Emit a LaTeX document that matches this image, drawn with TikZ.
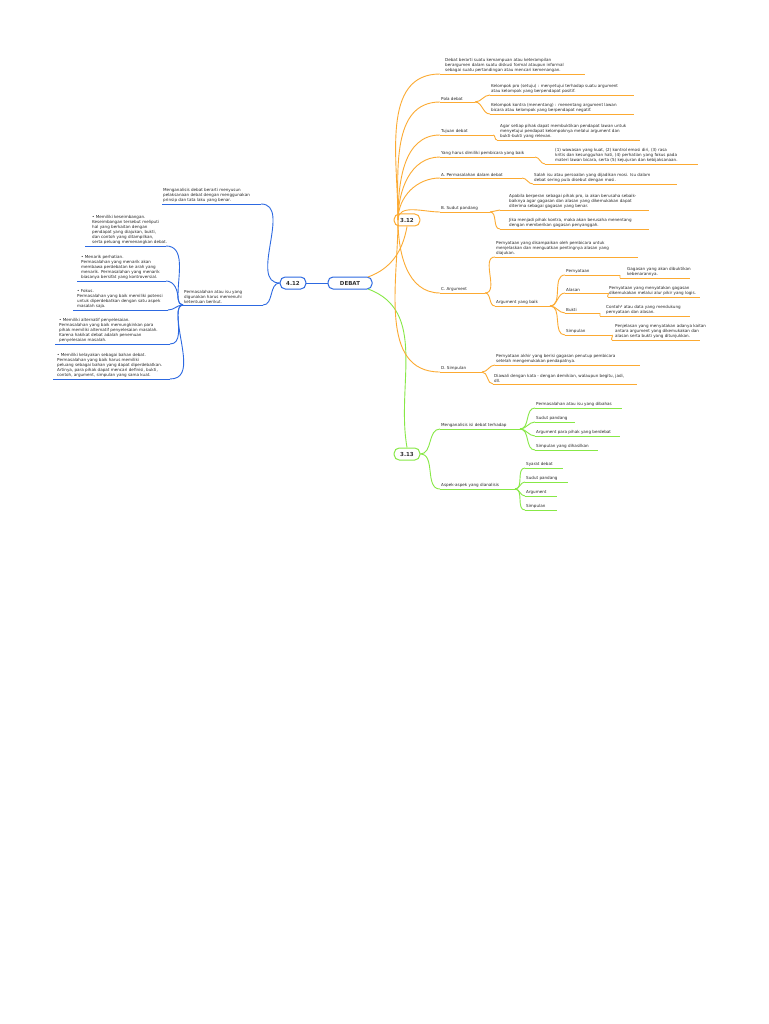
\documentclass[tikz,border=0pt]{standalone}
\usepackage{fontspec}
\setmainfont{DejaVu Sans}
\begin{document}
\begin{tikzpicture}[x=1pt,y=-1pt,
 txt/.style={font=\fontsize{4.1}{5}\selectfont,align=left,inner sep=1pt,text=black!85},
 box/.style={draw,rounded corners=5pt,line width=1pt,font=\fontsize{5.5}{6}\selectfont\bfseries,text=black!80,minimum height=12pt,inner xsep=6pt},
 bl/.style={draw={rgb,255:red,45;green,105;blue,225},line width=0.9pt},
 or/.style={draw={rgb,255:red,252;green,170;blue,50},line width=0.9pt},
 gr/.style={draw={rgb,255:red,135;green,232;blue,70},line width=0.9pt}]
\useasboundingbox[fill=white] (0,0) rectangle (768,1024);
\newcommand\lf[6]{\coordinate (#1s) at (#2,#4); \coordinate (#1e) at (#3,#4); \draw[#6] (#1s)--(#1e); \node[txt,anchor=south west] (#1) at (#1s) {#5};}
\newcommand\rc[3]{\draw[#3] (#1) to[out=0,in=180] (#2);}
\newcommand\lc[3]{\draw[#3] (#1) to[out=180,in=0] (#2);}
% central
\node[box,draw={rgb,255:red,45;green,105;blue,225},minimum width=44pt] (debat) at (350,283) {DEBAT};
\node[box,draw={rgb,255:red,45;green,105;blue,225}] (b412) at (293,283) {4.12};
\node[box,draw={rgb,255:red,252;green,170;blue,50}] (b312) at (407,220) {3.12};
\node[box,draw={rgb,255:red,135;green,232;blue,70}] (b313) at (407,454) {3.13};
\draw[bl] (debat.west)--(b412.east);
\coordinate (dor) at (368,277);
\coordinate (dgr) at (368,289);
\draw[or] (dor) to[out=20,in=-100] (b312.south);
\draw[gr] (dgr) to[out=-20,in=100] (b313.north);
% ---------- left blue
\coordinate (l0) at (b412.west);
\lf{ma}{162}{261}{204}{Menganalisis debat berarti menyusun\\pelaksanaan debat dengan menggunakan\\prinsip dan tata laku yang benar.}{bl}
\lf{pi}{183}{263}{305}{Permasalahan atau isu yang\\digunakan harus memenuhi\\ketentuan berikut.}{bl}
\lc{l0}{mae}{bl}\lc{l0}{pie}{bl}
\lf{i1}{85}{166}{246}{\hspace*{6pt}• Memiliki keseimbangan.\\\hspace*{6pt}Keseimbangan tersebut meliputi\\\hspace*{6pt}hal yang berkaitan dengan\\\hspace*{6pt}pendapat yang diajukan, bukti,\\\hspace*{6pt}dan contoh yang ditampilkan,\\\hspace*{6pt}serta peluang memenangkan debat.}{bl}
\lf{i2}{77}{166}{281}{\hspace*{3pt}• Menarik perhatian.\\\hspace*{3pt}Permasalahan yang menarik akan\\\hspace*{3pt}membawa perdebatan ke arah yang\\\hspace*{3pt}menarik. Permasalahan yang menarik\\\hspace*{3pt}biasanya bersifat yang kontroversial.}{bl}
\lf{i3}{73}{168}{310}{\hspace*{3pt}• Fokus.\\\hspace*{3pt}Permasalahan yang baik memiliki potensi\\\hspace*{3pt}untuk diperdebatkan dengan satu aspek\\\hspace*{3pt}masalah saja.}{bl}
\lf{i4}{55}{170}{344}{\hspace*{3pt}• Memiliki alternatif penyelesaian.\\\hspace*{3pt}Permasalahan yang baik memungkinkan para\\\hspace*{3pt}pihak memiliki alternatif penyelesaian masalah.\\\hspace*{3pt}Karena hakikat debat adalah penemuan\\\hspace*{3pt}penyelesaian masalah.}{bl}
\lf{i5}{53}{170}{379}{\hspace*{3pt}• Memiliki kelayakan sebagai bahan debat.\\\hspace*{3pt}Permasalahan yang baik harus memiliki\\\hspace*{3pt}peluang sebagai bahan yang dapat diperdebatkan.\\\hspace*{3pt}Artinya, para pihak dapat mencari definisi, bukti,\\\hspace*{3pt}contoh, argument, simpulan yang sama kuat.}{bl}
\draw[bl] (pis) to[out=180,in=-90] ++(-5,-10) to[out=90,in=0] (i1e);
\draw[bl] (pis) to[out=180,in=-90] ++(-5,-6) to[out=90,in=0] (i2e);
\draw[bl] (pis) to[out=180,in=0] (i3e);
\draw[bl] (pis) to[out=180,in=90] ++(-5,10) to[out=-90,in=0] (i4e);
\draw[bl] (pis) to[out=180,in=90] ++(-5,10) to[out=-90,in=0] (i5e);
% ---------- right orange
\coordinate (r0) at (398,220);
\newcommand\up[1]{\draw[or] (r0) to[out=90,in=180] (#1);}
\newcommand\dn[1]{\draw[or] (r0) to[out=-90,in=180] (#1);}
\lf{def}{440}{585}{74}{\hspace*{4pt}Debat berarti suatu kemampuan atau keterampilan\\\hspace*{4pt}berargumen dalam suatu diskusi formal ataupun informal\\\hspace*{4pt}sebagai suatu pertandingan atau mencari kemenangan.}{or}
\lf{pola}{440}{475}{102}{Pola debat}{or}
\lf{pola1}{490}{634}{95}{Kelompok pro (setuju) : menyetujui terhadap suatu argument\\atau kelompok yang berpendapat positif.}{or}
\lf{pola2}{490}{634}{114}{Kelompok kontra (menentang) : menentang argument lawan\\bicara atau kelompok yang berpendapat negatif.}{or}
\rc{polae}{pola1s}{or}\rc{polae}{pola2s}{or}
\lf{tuj}{440}{493}{135}{Tujuan debat}{or}
\lf{tuj1}{497}{640}{140}{\hspace*{2pt}Agar setiap pihak dapat membuktikan pendapat lawan untuk\\\hspace*{2pt}menyetujui pendapat kelompoknya melalui argument dan\\\hspace*{2pt}bukti-bukti yang relevan.}{or}
\rc{tuje}{tuj1s}{or}
\lf{yh}{440}{535}{157}{Yang harus dimiliki pembicara yang baik}{or}
\lf{yh1}{545}{698}{164}{\hspace*{9pt}(1) wawasan yang kuat, (2) kontrol emosi diri, (3) rasa\\\hspace*{9pt}kritis dan kesungguhan hati, (4) perhatian yang fokus pada\\\hspace*{9pt}materi lawan bicara, serta (5) kejujuran dan kebijaksanaan.}{or}
\rc{yhe}{yh1s}{or}
\lf{pa}{440}{522}{178}{A. Permasalahan dalam debat}{or}
\lf{pa1}{533}{677}{184}{Salah isu atau persoalan yang dijadikan mosi. Isu dalam\\debat sering pula disebut dengan mosi.}{or}
\rc{pae}{pa1s}{or}
\lf{sp}{440}{490}{212}{B. Sudut pandang}{or}
\lf{sp1}{500}{649}{210}{\hspace*{8pt}Apabila berperan sebagai pihak pro, ia akan berusaha sebaik-\\\hspace*{8pt}baiknya agar gagasan dan alasan yang dikemukakan dapat\\\hspace*{8pt}diterima sebagai gagasan yang benar.}{or}
\lf{sp2}{500}{649}{229}{\hspace*{8pt}Jika menjadi pihak kontra, maka akan berusaha menentang\\\hspace*{8pt}dengan memberikan gagasan penyanggah.}{or}
\rc{spe}{sp1s}{or}\rc{spe}{sp2s}{or}
\lf{ca}{440}{485}{293}{C. Argument}{or}
\lf{ca1}{495}{638}{257}{Pernyataan yang disampaikan oleh pembicara untuk\\menjelaskan dan menguatkan pentingnya alasan yang\\diajukan.}{or}
\lf{ca2}{495}{550}{306}{Argument yang baik}{or}
\rc{cae}{ca1s}{or}\rc{cae}{ca2s}{or}
\lf{pn}{565}{620}{275}{Pernyataan}{or}
\lf{pn1}{620}{690}{278}{\hspace*{6pt}Gagasan yang akan dibuktikan\\\hspace*{6pt}kebenarannya.}{or}
\lf{al}{565}{608}{293}{Alasan}{or}
\lf{al1}{608}{700}{297}{Pernyataan yang menyatakan gagasan\\dikemukakan melalui alur pikir yang logis.}{or}
\lf{bk}{565}{600}{313}{Bukti}{or}
\lf{bk1}{600}{690}{316}{\hspace*{5pt}Contoh² atau data yang mendukung\\\hspace*{5pt}pernyataan dan alasan.}{or}
\lf{sm}{565}{612}{335}{Simpulan}{or}
\lf{sm1}{612}{700}{340}{\hspace*{2pt}Penjelasan yang menyatakan adanya kaitan\\\hspace*{2pt}antara argument yang dikemukakan dan\\\hspace*{2pt}alasan serta bukti yang ditunjukkan.}{or}
\rc{ca2e}{pns}{or}\rc{ca2e}{als}{or}\rc{ca2e}{bks}{or}\rc{ca2e}{sms}{or}
\rc{pne}{pn1s}{or}\rc{ale}{al1s}{or}\rc{bke}{bk1s}{or}\rc{sme}{sm1s}{or}
\lf{ds}{440}{482}{372}{D. Simpulan}{or}
\lf{ds1}{495}{640}{365}{Pernyataan akhir yang berisi gagasan penutup pembicara\\setelah mengemukakan pendapatnya.}{or}
\lf{ds2}{493}{637}{384}{Diawali dengan kata - dengan demikian, walaupun begitu, jadi,\\dll.}{or}
\rc{dse}{ds1s}{or}\rc{dse}{ds2s}{or}
\up{defs}\up{polas}\up{tujs}\up{yhs}\up{pas}\up{sps}
\dn{cas}\dn{dss}
% ---------- green
\coordinate (g0) at (b313.east);
\lf{mi}{440}{520}{429}{Menganalisis isi debat terhadap}{gr}
\lf{mi1}{535}{622}{408}{Permasalahan atau isu yang dibahas}{gr}
\lf{mi2}{535}{575}{422}{Sudut pandang}{gr}
\lf{mi3}{535}{620}{436}{Argument para pihak yang berdebat}{gr}
\lf{mi4}{535}{598}{450}{Simpulan yang dihasilkan}{gr}
\lf{as}{440}{515}{489}{Aspek-aspek yang dianalisis}{gr}
\lf{as1}{525}{563}{468}{Syarat debat}{gr}
\lf{as2}{525}{568}{482}{Sudut pandang}{gr}
\lf{as3}{525}{557}{496}{Argument}{gr}
\lf{as4}{525}{557}{510}{Simpulan}{gr}
\draw[gr] (g0) to[out=0,in=180] (mis);\draw[gr] (g0) to[out=0,in=180] (ass);
\rc{mie}{mi1s}{gr}\rc{mie}{mi2s}{gr}\rc{mie}{mi3s}{gr}\rc{mie}{mi4s}{gr}
\rc{ase}{as1s}{gr}\rc{ase}{as2s}{gr}\rc{ase}{as3s}{gr}\rc{ase}{as4s}{gr}
\end{tikzpicture}
\end{document}
